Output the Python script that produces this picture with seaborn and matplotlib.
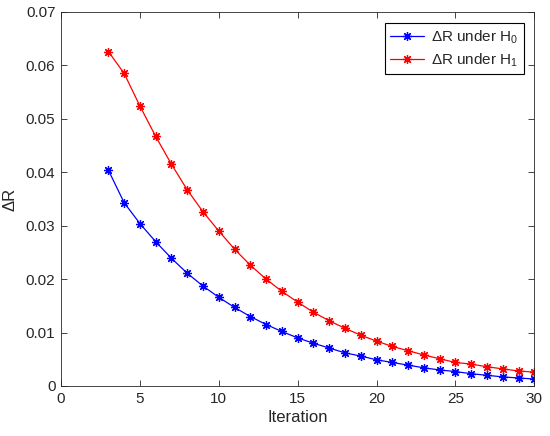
import numpy as np
import pandas as pd
import matplotlib
matplotlib.use("Agg")
import matplotlib.pyplot as plt
import seaborn as sns

iterations = list(range(3, 31))
dr_h0 = [0.0404, 0.0343, 0.0304, 0.0270, 0.0239, 0.0211, 0.0187, 0.0166, 0.0147,
         0.0130, 0.0115, 0.0102, 0.0090, 0.0080, 0.0071, 0.0062, 0.0056, 0.0049,
         0.0044, 0.0039, 0.0034, 0.0030, 0.0027, 0.0023, 0.0020, 0.0017, 0.0015, 0.0013]
dr_h1 = [0.0626, 0.0585, 0.0524, 0.0467, 0.0415, 0.0367, 0.0326, 0.0290, 0.0256,
         0.0226, 0.0200, 0.0177, 0.0157, 0.0138, 0.0122, 0.0108, 0.0095, 0.0084,
         0.0074, 0.0066, 0.0058, 0.0051, 0.0044, 0.0041, 0.0036, 0.0032, 0.0028, 0.0026]
series_labels = [r"ΔR under H$_0$", r"ΔR under H$_1$"]
colors = ["#0000ff", "#ff0000"]
x_ticks = [0, 5, 10, 15, 20, 25, 30]
y_ticks = [0, 0.01, 0.02, 0.03, 0.04, 0.05, 0.06, 0.07]

sns.set_style("white")
plt.rcParams["font.family"] = ["Liberation Sans", "DejaVu Sans"]
plt.rcParams["mathtext.fontset"] = "custom"
plt.rcParams["mathtext.rm"] = "Liberation Sans"
plt.rcParams["mathtext.it"] = "Liberation Sans:italic"
plt.rcParams["mathtext.default"] = "rm"

df = pd.DataFrame({
    "Iteration": iterations * 2,
    "dR": dr_h0 + dr_h1,
    "series": [series_labels[0]] * len(iterations) + [series_labels[1]] * len(iterations),
})

fig = plt.figure(figsize=(5.5, 4.36), dpi=100)
ax = fig.add_axes([0.111, 0.1147, 0.8605, 0.8578])

for lab, col in zip(series_labels, colors):
    sub = df[df["series"] == lab]
    sns.lineplot(data=sub, x="Iteration", y="dR", color=col, label=lab,
                 marker=(8, 2, 0), markersize=6.5, markeredgewidth=0.9,
                 markeredgecolor=col, markerfacecolor=col, linewidth=0.9, ax=ax)

ax.set_xlim(0, 30)
ax.set_ylim(0, 0.07)
ax.set_xticks(x_ticks)
ax.set_xticklabels([str(t) for t in x_ticks])
ax.set_yticks(y_ticks)
ax.set_yticklabels(["0"] + [f"{t:.2f}" for t in y_ticks[1:]])
ax.tick_params(direction="in", length=4, width=0.6, labelsize=11, colors="#262626",
               top=True, right=True, bottom=True, left=True, pad=4)
for s in ax.spines.values():
    s.set_visible(True)
    s.set_color("#262626")
    s.set_linewidth(0.6)

ax.set_xlabel("Iteration", fontsize=12, labelpad=3)
ax.set_ylabel("ΔR", fontsize=12, labelpad=6)

leg = ax.legend(loc="upper right", fontsize=11, frameon=True, fancybox=False,
                edgecolor="black", framealpha=1, borderpad=0.35, handlelength=2.2,
                handletextpad=0.5, labelspacing=0.35, borderaxespad=0,
                bbox_to_anchor=(0.978, 0.97))
leg.get_frame().set_linewidth(0.8)

fig.savefig("out.png", dpi=100)
